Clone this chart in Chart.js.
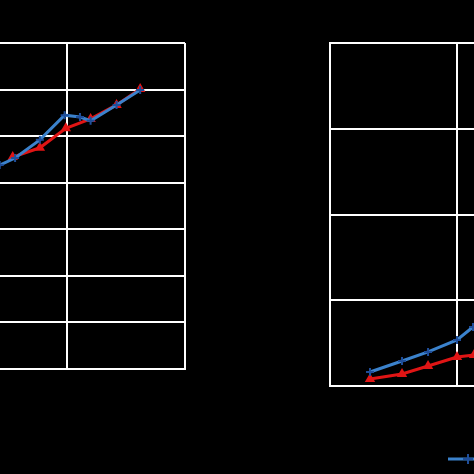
<!DOCTYPE html><html><head><script src="https://cdn.jsdelivr.net/npm/chart.js@4"></script>
<style>body{margin:0;background:#000;width:474px;height:474px;overflow:hidden;position:relative}div{position:absolute}</style></head><body>
<div style="left:-57px;top:37px;width:248px;height:338px"><canvas id="a"></canvas></div>
<div style="left:324px;top:37px;width:266px;height:355px"><canvas id="b"></canvas></div>
<div style="left:448px;top:452px;width:40px;height:14px"><canvas id="c"></canvas></div>
<script>
const leftBlueX=[0.43,0.56,0.77,0.98,1.11,1.2,1.42,1.62];
const leftBlueY=[4.38,4.53,4.92,5.45,5.41,5.33,5.67,5.99];
const leftRedX=[0.54,0.77,0.99,1.2,1.42,1.62];
const leftRedY=[4.55,4.75,5.17,5.37,5.67,6.01];
const rightBlueX=[0.315,0.567,0.772,1.0,1.126,1.3];
const rightBlueY=[0.163,0.292,0.397,0.537,0.688,0.9];
const rightRedX=[0.315,0.567,0.772,1.0,1.134,1.3];
const rightRedY=[0.082,0.14,0.233,0.338,0.362,0.38];
const pts=(xs,ys)=>xs.map((x,i)=>({x,y:ys[i]}));
const blue='#3b82cc',red='#e01515';
function ds(d,c,style){return {data:d,borderColor:c,backgroundColor:style==='triangle'?red:'#1f4e9a',pointBorderColor:style==='triangle'?red:'#1f4e9a',borderWidth:3,pointStyle:style,pointRadius:4,pointBorderWidth:2,tension:0};}
function opts(xmax,ymax){return {responsive:true,maintainAspectRatio:false,animation:false,layout:{padding:2},plugins:{legend:{display:false},tooltip:{enabled:false}},
scales:{x:{type:'linear',min:0,max:xmax,ticks:{display:false,stepSize:1},grid:{color:'#fff',lineWidth:2,drawTicks:false},border:{color:'#fff',width:2}},
y:{min:0,max:ymax,ticks:{display:false,stepSize:1},grid:{color:'#fff',lineWidth:2,drawTicks:false},border:{color:'#fff',width:2}}}};}
new Chart(document.getElementById('a'),{type:'line',data:{datasets:[ds(pts(leftBlueX,leftBlueY),blue,'cross'),ds(pts(leftRedX,leftRedY),red,'triangle')]},options:opts(2,7)});
new Chart(document.getElementById('b'),{type:'line',data:{datasets:[ds(pts(rightBlueX,rightBlueY),blue,'cross'),ds(pts(rightRedX,rightRedY),red,'triangle')]},options:opts(2,4)});
new Chart(document.getElementById('c'),{type:'line',data:{labels:['a','b','c'],datasets:[{data:[0,0,0],borderColor:blue,borderWidth:3,pointStyle:['false','cross','false'],pointRadius:[0,5,0],pointBorderColor:'#1f4e9a',pointBorderWidth:2}]},
options:{responsive:true,maintainAspectRatio:false,animation:false,plugins:{legend:{display:false},tooltip:{enabled:false}},scales:{x:{display:false},y:{display:false,min:-1,max:1}}}});
</script></body></html>
